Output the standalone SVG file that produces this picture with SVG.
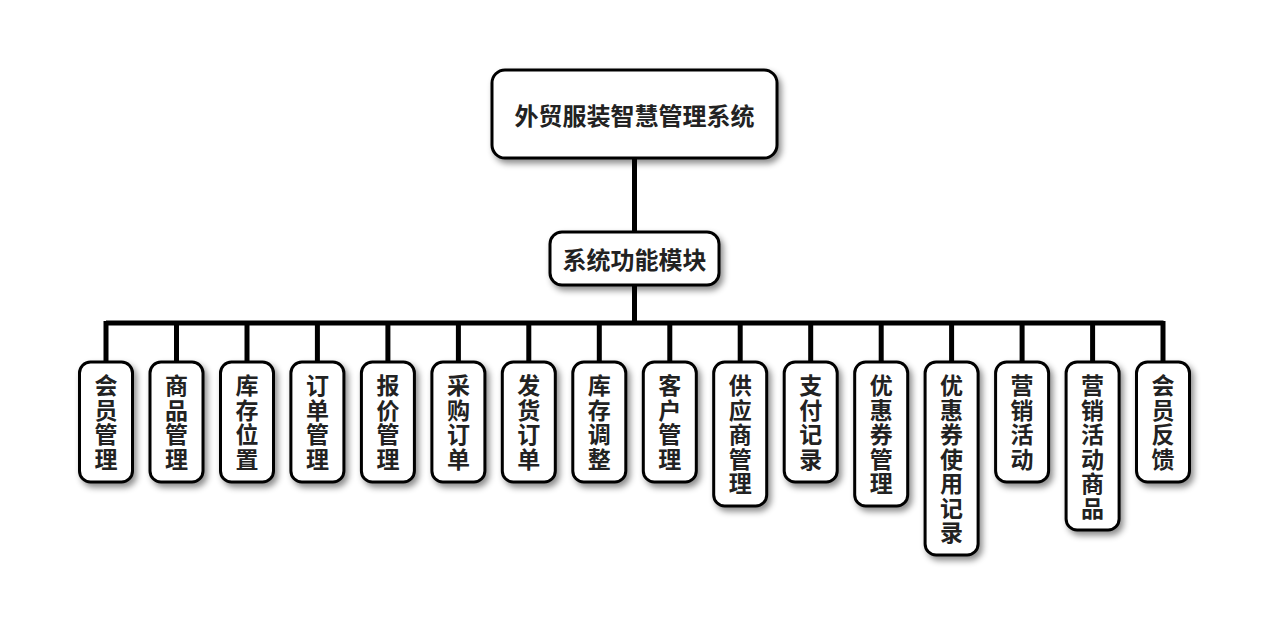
<svg xmlns="http://www.w3.org/2000/svg" width="1269" height="632" viewBox="0 0 1269 632">
<style>
.box{fill:#fff;stroke:#000;stroke-width:3;filter:url(#sh)}
.t{font-family:"Noto Sans CJK SC","Noto Sans CJK JP",sans-serif;font-weight:bold;fill:#222;text-anchor:middle;dominant-baseline:central}
.big{font-size:24px}
.leaf{font-size:23px}
.con{stroke:#000;stroke-width:5;fill:none}
</style>
<defs>
<filter id="sh" x="-30%" y="-30%" width="160%" height="160%">
<feDropShadow dx="3" dy="4" stdDeviation="3" flood-color="#000" flood-opacity="0.45"/>
</filter>
</defs>
<rect width="1269" height="632" fill="#fff"/>
<g id="connectors">
<path class="con" d="M634.5 158V232M634.5 285V323M106 323H1163.5M106 321V362M176.5 321V362M247 321V362M317.4 321V362M387.9 321V362M458.4 321V362M528.8 321V362M599.3 321V362M669.8 321V362M740.2 321V362M810.7 321V362M881.2 321V362M951.6 321V362M1022.1 321V362M1092.6 321V362M1163 321V362"/>
</g>
<g id="root">
<rect class="box" x="492" y="70" width="285" height="88" rx="13"/>
<text class="t big" x="634.5" y="114">外贸服装智慧管理系统</text>
</g>
<g id="module">
<rect class="box" x="550" y="232" width="169" height="53" rx="12"/>
<text class="t big" x="634.5" y="258.5">系统功能模块</text>
</g>
<g id="n1"><rect class="box" x="79.5" y="362" width="53" height="120" rx="11"/><text class="t leaf" x="106"><tspan x="106" y="384">会</tspan><tspan x="106" y="408.5">员</tspan><tspan x="106" y="433">管</tspan><tspan x="106" y="457.5">理</tspan></text></g>
<g id="n2"><rect class="box" x="150" y="362" width="53" height="120" rx="11"/><text class="t leaf"><tspan x="176.5" y="384">商</tspan><tspan x="176.5" y="408.5">品</tspan><tspan x="176.5" y="433">管</tspan><tspan x="176.5" y="457.5">理</tspan></text></g>
<g id="n3"><rect class="box" x="220.5" y="362" width="53" height="120" rx="11"/><text class="t leaf"><tspan x="247" y="384">库</tspan><tspan x="247" y="408.5">存</tspan><tspan x="247" y="433">位</tspan><tspan x="247" y="457.5">置</tspan></text></g>
<g id="n4"><rect class="box" x="290.9" y="362" width="53" height="120" rx="11"/><text class="t leaf"><tspan x="317.4" y="384">订</tspan><tspan x="317.4" y="408.5">单</tspan><tspan x="317.4" y="433">管</tspan><tspan x="317.4" y="457.5">理</tspan></text></g>
<g id="n5"><rect class="box" x="361.4" y="362" width="53" height="120" rx="11"/><text class="t leaf"><tspan x="387.9" y="384">报</tspan><tspan x="387.9" y="408.5">价</tspan><tspan x="387.9" y="433">管</tspan><tspan x="387.9" y="457.5">理</tspan></text></g>
<g id="n6"><rect class="box" x="431.9" y="362" width="53" height="120" rx="11"/><text class="t leaf"><tspan x="458.4" y="384">采</tspan><tspan x="458.4" y="408.5">购</tspan><tspan x="458.4" y="433">订</tspan><tspan x="458.4" y="457.5">单</tspan></text></g>
<g id="n7"><rect class="box" x="502.3" y="362" width="53" height="120" rx="11"/><text class="t leaf"><tspan x="528.8" y="384">发</tspan><tspan x="528.8" y="408.5">货</tspan><tspan x="528.8" y="433">订</tspan><tspan x="528.8" y="457.5">单</tspan></text></g>
<g id="n8"><rect class="box" x="572.8" y="362" width="53" height="120" rx="11"/><text class="t leaf"><tspan x="599.3" y="384">库</tspan><tspan x="599.3" y="408.5">存</tspan><tspan x="599.3" y="433">调</tspan><tspan x="599.3" y="457.5">整</tspan></text></g>
<g id="n9"><rect class="box" x="643.3" y="362" width="53" height="120" rx="11"/><text class="t leaf"><tspan x="669.8" y="384">客</tspan><tspan x="669.8" y="408.5">户</tspan><tspan x="669.8" y="433">管</tspan><tspan x="669.8" y="457.5">理</tspan></text></g>
<g id="n10"><rect class="box" x="713.7" y="362" width="53" height="144" rx="11"/><text class="t leaf"><tspan x="740.2" y="384">供</tspan><tspan x="740.2" y="408.5">应</tspan><tspan x="740.2" y="433">商</tspan><tspan x="740.2" y="457.5">管</tspan><tspan x="740.2" y="482">理</tspan></text></g>
<g id="n11"><rect class="box" x="784.2" y="362" width="53" height="120" rx="11"/><text class="t leaf"><tspan x="810.7" y="384">支</tspan><tspan x="810.7" y="408.5">付</tspan><tspan x="810.7" y="433">记</tspan><tspan x="810.7" y="457.5">录</tspan></text></g>
<g id="n12"><rect class="box" x="854.7" y="362" width="53" height="144" rx="11"/><text class="t leaf"><tspan x="881.2" y="384">优</tspan><tspan x="881.2" y="408.5">惠</tspan><tspan x="881.2" y="433">券</tspan><tspan x="881.2" y="457.5">管</tspan><tspan x="881.2" y="482">理</tspan></text></g>
<g id="n13"><rect class="box" x="925.1" y="362" width="53" height="193" rx="11"/><text class="t leaf"><tspan x="951.6" y="384">优</tspan><tspan x="951.6" y="408.5">惠</tspan><tspan x="951.6" y="433">券</tspan><tspan x="951.6" y="457.5">使</tspan><tspan x="951.6" y="482">用</tspan><tspan x="951.6" y="506.5">记</tspan><tspan x="951.6" y="531">录</tspan></text></g>
<g id="n14"><rect class="box" x="995.6" y="362" width="53" height="120" rx="11"/><text class="t leaf"><tspan x="1022.1" y="384">营</tspan><tspan x="1022.1" y="408.5">销</tspan><tspan x="1022.1" y="433">活</tspan><tspan x="1022.1" y="457.5">动</tspan></text></g>
<g id="n15"><rect class="box" x="1066.1" y="362" width="53" height="168" rx="11"/><text class="t leaf"><tspan x="1092.6" y="384">营</tspan><tspan x="1092.6" y="408.5">销</tspan><tspan x="1092.6" y="433">活</tspan><tspan x="1092.6" y="457.5">动</tspan><tspan x="1092.6" y="482">商</tspan><tspan x="1092.6" y="506.5">品</tspan></text></g>
<g id="n16"><rect class="box" x="1136.5" y="362" width="53" height="120" rx="11"/><text class="t leaf"><tspan x="1163" y="384">会</tspan><tspan x="1163" y="408.5">员</tspan><tspan x="1163" y="433">反</tspan><tspan x="1163" y="457.5">馈</tspan></text></g>
</svg>
